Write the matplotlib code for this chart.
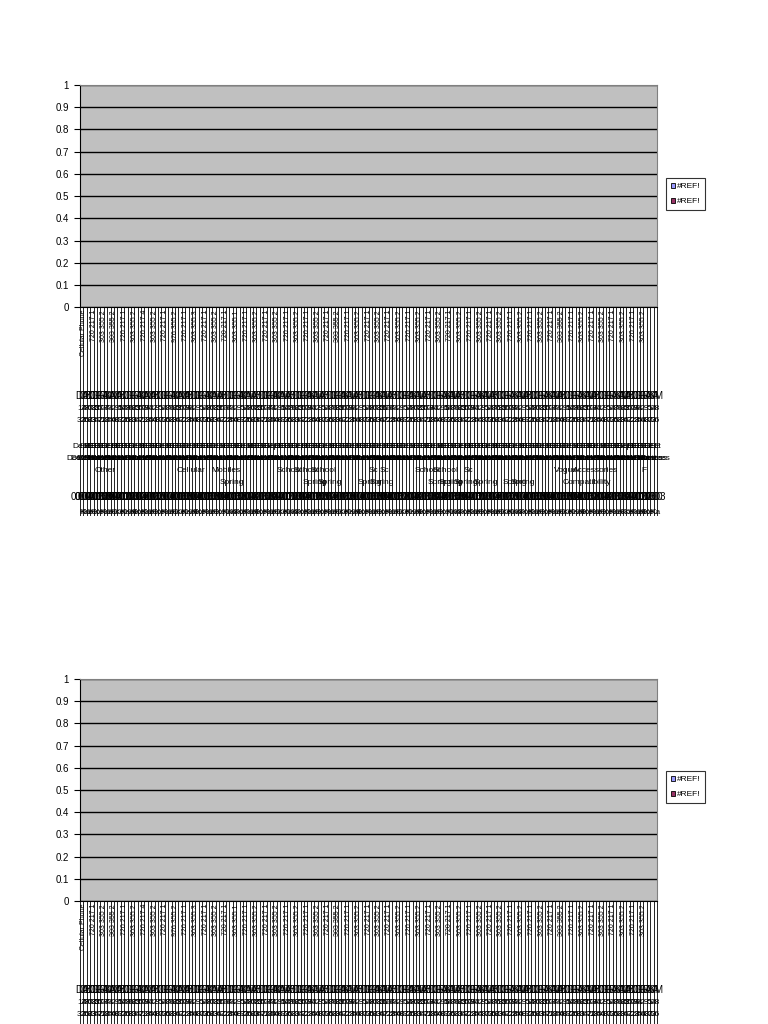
import matplotlib.pyplot as plt
import numpy as np
from matplotlib.patches import Patch

plt.rcParams['font.family'] = ['Liberation Sans', 'DejaVu Sans']

# two series that point at deleted cells -> nothing to draw
series_names = ['#REF!', '#REF!']
series_colors = ['#9999FF', '#993366']
y_ticks = [0, 0.1, 0.2, 0.3, 0.4, 0.5, 0.6, 0.7, 0.8, 0.9, 1]
y_labels = ['0', '0.1', '0.2', '0.3', '0.4', '0.5', '0.6', '0.7', '0.8', '0.9', '1']

n_cat = 170

# category axis levels (multi-level Excel axis, labels overlap into a block)
part_numbers = ['Cellular Phone', '720 217 1', '303 355 2', '303 355 2', '720 217 1',
                '303 355 2', '720 217 4', '303 355 2', '720 217 1', '976 355 2',
                '720 217 1', '303 355 3', '720 217 1', '303 355 2', '720 217 1',
                '303 355 1', '720 217 1', '303 355 2', '720 217 1', '303 355 2',
                '720 217 1', '303 355 2', '720 217 1', '303 355 2', '720 217 1',
                '303 355 2', '720 217 1', '303 355 2', '720 217 1', '303 355 2',
                '720 217 1', '303 355 2', '720 217 1', '303 355 2', '720 217 1',
                '303 355 2', '720 217 1', '303 355 2', '720 217 1', '303 355 2',
                '720 217 1', '303 355 2', '720 217 1', '303 355 2', '720 217 1',
                '303 355 2', '720 217 1', '303 355 2', '720 217 1', '303 355 2',
                '720 217 1', '303 355 2', '720 217 1', '303 355 2', '720 217 1',
                '303 355 2']
top_codes = ['DA', 'DB', 'DC', 'DD', 'DE', 'DF', 'DA', 'DK', 'DA', 'DM']
num_row1 = ['14', '28', '76', '78', '23', '55', '378', '24', '74', '32', '-', '35']
num_row2 = ['32', '36', '58', '23', '34', '67', '22', '18', '24', '56', '48', '07']
dept_row = ['Dept', 'EE', 'EE', 'EE', 'EB', 'EE', 'EE', 'EE']
dev_row = ['Devices', 'Devices', 'Mobile', 'Devices', 'Phone', 'Devices']
group_row = ['Other', 'Cellular', 'Mobiles', 'School', 'School', 'School', 'Sc', 'Sc',
             'School', 'School', 'Sc', 'Vogue', 'Accessories', 'F']
group_pos = [8, 38, 50, 72, 78, 84, 101, 105, 120, 126, 134, 168, 178, 195]
season_row = ['Spring', 'Spring', 'Spring', 'Spring', 'Spring', 'Spring', 'Spring',
              'Spring', 'Spring', 'Spring', 'Spring', 'Compatibility']
season_pos = [52, 81, 86, 100, 104, 124, 128, 133, 140, 150, 153, 175]
s_row = ['s', 's', 's', 's', 's', 's', 's', 's', 's', 's']
s_pos = [55, 82, 86, 92, 105, 111, 126, 130, 138, 151]
dept_codes = ['0000', '0003', '0040', '0001', '0011', '0022', '0033', '0030']
k_row = ['K', 'Ka', 'Ko', 'Ki', 'Kc', 'Ke']

fig = plt.figure(figsize=(7.68, 10.24), dpi=100)

# plot area spans x = 80..657 px
per_px = n_cat / 577.0
x_lo = -0.5 - 80 * per_px
x_hi = -0.5 + (768 - 80) * per_px


def draw_chart(bottom, top_px, end_px):
    ax = fig.add_axes([0.104, bottom, 0.751, 0.217])
    ax.set_facecolor('#C0C0C0')
    ax.set_xlim(-0.5, n_cat - 0.5)
    ax.set_ylim(0, 1)
    ax.set_yticks(y_ticks)
    ax.set_yticklabels(y_labels, fontsize=7)
    ax.set_xticks([])
    ax.grid(axis='y', color='black', linewidth=1)
    ax.set_axisbelow(True)
    for s in ['top', 'right']:
        ax.spines[s].set_color('#808080')
    ax.spines['left'].set_color('black')
    ax.spines['bottom'].set_color('black')
    ax.tick_params(axis='y', length=4, width=0.8, pad=4)

    # category axis area below the plot, y in pixel rows of the page
    lab = fig.add_axes([0, 1 - end_px / 1024.0, 1, (end_px - top_px) / 1024.0])
    lab.set_xlim(x_lo, x_hi)
    lab.set_ylim(end_px, top_px)
    lab.axis('off')
    lab.patch.set_alpha(0)

    edges = np.arange(n_cat + 1) - 0.5
    lab.vlines(edges, top_px, end_px + 10, colors='black', linewidth=0.6)

    def row(labels, positions, py, size=6, rot=0, va='center'):
        for txt, x in zip(labels, positions):
            lab.text(x, py, txt, fontsize=size, rotation=rot, ha='center',
                     va=va, clip_on=True)

    off = top_px - 307
    pos = np.arange(len(part_numbers)) * 3 + 0.5
    row(part_numbers, pos, 310 + off, size=5, rot=90, va='top')
    cats = np.arange(n_cat)
    row(np.resize(top_codes, n_cat), cats, 396 + off, size=7)
    row(np.resize(num_row1, n_cat), cats, 408 + off, size=6)
    row(np.resize(num_row2, n_cat), cats, 420 + off, size=6)
    row(np.resize(dept_row, n_cat), cats, 446 + off, size=6)
    row(np.resize(dev_row, n_cat), cats, 458 + off, size=6)
    scale = n_cat / 200.0
    row(group_row, np.array(group_pos) * scale, 470 + off, size=6)
    row(season_row, np.array(season_pos) * scale, 482 + off, size=6)
    row(s_row, np.array(s_pos) * scale, 494 + off, size=6)
    row(np.resize(dept_codes, n_cat), cats, 497 + off, size=7)
    row(np.resize(k_row, n_cat), cats, 513 + off, size=6)
    return ax


ax1 = draw_chart(0.700, 307, 516)
ax2 = draw_chart(0.120, 901, 1024)

handles = [Patch(facecolor=c, edgecolor='black', linewidth=0.6, label=n)
           for n, c in zip(series_names, series_colors)]
for ax, ly in [(ax1, 0.8105), (ax2, 0.2315)]:
    leg = ax.legend(handles=handles, loc='center', bbox_to_anchor=(0.8926, ly),
                    bbox_transform=fig.transFigure, fontsize=6, frameon=True,
                    fancybox=False, edgecolor='black', handlelength=0.55,
                    handleheight=0.55, handletextpad=0.2, borderpad=0.6,
                    labelspacing=0.9)
    leg.get_frame().set_linewidth(0.8)

fig.savefig('out.png', dpi=100, facecolor='white')
